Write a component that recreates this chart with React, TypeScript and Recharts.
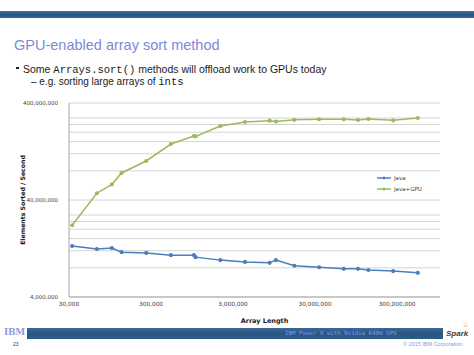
import React from "react";
import {
  CartesianGrid,
  Label,
  Legend,
  Line,
  LineChart,
  XAxis,
  YAxis,
} from "recharts";

// array sizes used in the benchmark (elements)
const arrayLengths = [
  32768, 65536, 100000, 131072, 262144, 524288, 1000000, 1048576, 2097152,
  4194304, 8388608, 10000000, 16777216, 33554432, 67108864, 100000000,
  134217728, 268435456, 536870912,
];

// elements sorted per second
const javaRates = [
  13.4e6, 12.5e6, 12.8e6, 11.6e6, 11.4e6, 10.8e6, 10.8e6, 10.3e6, 9.6e6,
  9.2e6, 9.0e6, 9.6e6, 8.4e6, 8.1e6, 7.8e6, 7.8e6, 7.6e6, 7.4e6, 7.1e6,
];
const gpuRates = [
  22e6, 47e6, 58e6, 76e6, 101e6, 151e6, 183e6, 181e6, 232e6, 255e6, 263e6,
  258e6, 268e6, 272e6, 272e6, 267e6, 274e6, 265e6, 280e6,
];

const xTicks = [30000, 300000, 3000000, 30000000, 300000000];
const yGridTicks = [
  4e6, 8e6, 12e6, 16e6, 20e6, 24e6, 28e6, 32e6, 36e6, 40e6, 80e6, 120e6,
  160e6, 200e6, 240e6, 280e6, 320e6, 360e6, 400e6,
];
const yLabelTicks = [4e6, 40e6, 400e6];

const data = arrayLengths.map((n, i) => ({
  n,
  java: javaRates[i],
  gpu: gpuRates[i],
}));

const chartFont = "'DejaVu Sans', Verdana, sans-serif";
const slideFont = "'Liberation Sans', Arial, sans-serif";
const monoFont = "'Liberation Mono', 'Courier New', monospace";

const fmt = (v: number) => v.toLocaleString("en-US");

function ExcelLegend({ payload }: any) {
  return (
    <div style={{ fontFamily: chartFont, fontSize: 5.5, color: "#404040" }}>
      {(payload || []).map((p: any) => (
        <div
          key={p.value}
          style={{ display: "flex", alignItems: "center", height: 11 }}
        >
          <svg width={14} height={6} style={{ marginRight: 3 }}>
            <line x1={0} y1={3} x2={14} y2={3} stroke={p.color} strokeWidth={1.5} />
            <circle cx={7} cy={3} r={1.5} fill={p.color} />
          </svg>
          <span>{p.value}</span>
        </div>
      ))}
    </div>
  );
}

export default function App() {
  return (
    <div
      style={{
        position: "absolute",
        left: 0,
        top: 0,
        width: 474,
        height: 355,
        background: "#fff",
        overflow: "hidden",
      }}
    >
      {/* top banner */}
      <div
        style={{
          position: "absolute",
          left: 0,
          top: 11,
          width: 474,
          height: 7,
          background: "linear-gradient(#4a74a0, #2b5784 40%, #2b5784 70%, #3e6894)",
        }}
      />

      <div
        style={{
          position: "absolute",
          left: 14,
          top: 37.5,
          fontFamily: slideFont,
          fontSize: 14.5,
          lineHeight: "14.5px",
          color: "#7b8ad8",
          whiteSpace: "nowrap",
        }}
      >
        GPU-enabled array sort method
      </div>
      <div
        style={{
          position: "absolute",
          left: 16,
          top: 66.5,
          width: 2.5,
          height: 2.5,
          background: "#222",
        }}
      />
      <div
        style={{
          position: "absolute",
          left: 23,
          top: 64,
          fontFamily: slideFont,
          fontSize: 10.5,
          lineHeight: "10.5px",
          color: "#1a1a1a",
          whiteSpace: "nowrap",
        }}
      >
        Some <span style={{ fontFamily: monoFont }}>Arrays.sort()</span> methods
        will offload work to GPUs today
      </div>
      <div
        style={{
          position: "absolute",
          left: 31,
          top: 77,
          fontFamily: slideFont,
          fontSize: 10,
          lineHeight: "10px",
          color: "#1a1a1a",
          whiteSpace: "nowrap",
        }}
      >
        – e.g. sorting large arrays of{" "}
        <span style={{ fontFamily: monoFont, fontSize: 10.5 }}>ints</span>
      </div>

      <div style={{ position: "absolute", left: 0, top: 0 }}>
        <LineChart
          width={474}
          height={355}
          data={data}
          margin={{ top: 103, right: 34, bottom: 38, left: 9 }}
        >
          <CartesianGrid
            vertical={false}
            stroke="#d4d4d4"
            strokeWidth={1}
          />
          <XAxis
            dataKey="n"
            type="number"
            scale="log"
            domain={[30000, 1000000000]}
            allowDataOverflow
            ticks={xTicks}
            tickFormatter={fmt}
            tickLine={false}
            tickSize={4}
            tickMargin={1}
            height={20}
            stroke="#a6a6a6"
            tick={{ fill: "#404040", fontSize: 5.8, fontFamily: chartFont }}
          >
            <Label
              value="Array Length"
              position="insideBottom"
              offset={-6}
              dx={10}
              style={{
                fontFamily: chartFont,
                fontSize: 6.5,
                fontWeight: "bold",
                fill: "#1a1a1a",
              }}
            />
          </XAxis>
          <YAxis
            type="number"
            scale="log"
            domain={[4e6, 4e8]}
            allowDataOverflow
            ticks={yGridTicks}
            tickFormatter={(v: number) =>
              yLabelTicks.includes(v) ? fmt(v) : ""
            }
            tickLine={false}
            tickMargin={5}
            width={60}
            stroke="#a6a6a6"
            tick={{ fill: "#404040", fontSize: 5.5, fontFamily: chartFont }}
          >
            <Label
              value="Elements Sorted / Second"
              angle={-90}
              position="insideLeft"
              offset={14}
              style={{
                textAnchor: "middle",
                fontFamily: chartFont,
                fontSize: 6.2,
                fontWeight: "bold",
                fill: "#1a1a1a",
              }}
            />
          </YAxis>
          <Legend
            layout="vertical"
            align="center"
            verticalAlign="middle"
            wrapperStyle={{ left: 377, top: 172, width: 70 }}
            content={<ExcelLegend />}
          />
          <Line
            dataKey="java"
            name="Java"
            stroke="#4a7ebb"
            strokeWidth={1.5}
            dot={{ r: 1.3, fill: "#4a7ebb", stroke: "#4a7ebb" }}
            isAnimationActive={false}
          />
          <Line
            dataKey="gpu"
            name="Java+GPU"
            stroke="#9bbb59"
            strokeWidth={1.5}
            dot={{ r: 1.3, fill: "#9bbb59", stroke: "#9bbb59" }}
            isAnimationActive={false}
          />
        </LineChart>
      </div>

      {/* footer */}
      <div
        style={{
          position: "absolute",
          left: 4,
          top: 327,
          fontFamily: "'DejaVu Serif', serif",
          fontWeight: "bold",
          fontSize: 9,
          lineHeight: "11px",
          color: "#8d9be0",
          letterSpacing: -0.3,
        }}
      >
        IBM
      </div>
      <div
        style={{
          position: "absolute",
          left: 27,
          top: 328,
          width: 416,
          height: 11,
          background: "linear-gradient(#3c6896, #2a5683 50%, #2f5b89)",
        }}
      />
      <div
        style={{
          position: "absolute",
          left: 285,
          top: 330,
          fontFamily: "'DejaVu Sans Mono', monospace",
          fontSize: 5.8,
          lineHeight: "7px",
          color: "#7d9be0",
          whiteSpace: "nowrap",
        }}
      >
        IBM Power 8 with Nvidia K40m GPU
      </div>
      <div
        style={{
          position: "absolute",
          left: 446,
          top: 329,
          fontFamily: slideFont,
          fontStyle: "italic",
          fontWeight: "bold",
          fontSize: 8,
          lineHeight: "10px",
          color: "#3d3b40",
        }}
      >
        Spark
      </div>
      <div
        style={{
          position: "absolute",
          left: 463,
          top: 321,
          fontFamily: chartFont,
          fontSize: 6,
          lineHeight: "7px",
          color: "#e0792b",
        }}
      >
        ✩
      </div>
      <div
        style={{
          position: "absolute",
          left: 13,
          top: 341,
          fontFamily: slideFont,
          fontSize: 5,
          lineHeight: "6px",
          color: "#333",
        }}
      >
        23
      </div>
      <div
        style={{
          position: "absolute",
          left: 403,
          top: 341,
          fontFamily: slideFont,
          fontSize: 5.5,
          lineHeight: "6px",
          color: "#7f9de0",
          whiteSpace: "nowrap",
        }}
      >
        © 2015 IBM Corporation
      </div>
    </div>
  );
}
